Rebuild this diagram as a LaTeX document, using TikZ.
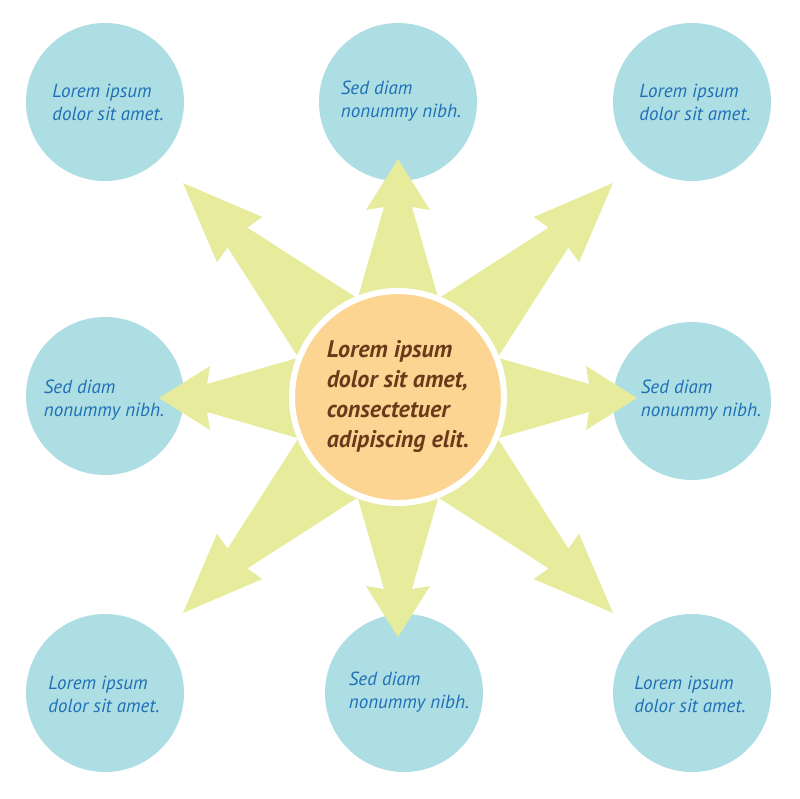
\documentclass[tikz,border=0pt]{standalone}
\usepackage{fontspec}
\setmainfont{PT Sans}
\definecolor{cblue}{HTML}{ADDEE3}
\definecolor{carrow}{HTML}{E6EC9C}
\definecolor{corange}{HTML}{FDD593}
\definecolor{tblue}{HTML}{1F6FB6}
\definecolor{tbrown}{HTML}{6A3B1A}
\begin{document}
\begin{tikzpicture}[x=1pt,y=-1pt,
  bubble/.style={circle,fill=cblue,minimum size=158pt,inner sep=0pt},
  btext/.style={align=left,text=tblue,font=\fontsize{19}{23}\selectfont\itshape,inner sep=0pt},
  hub/.style={circle,fill=corange,draw=white,line width=6pt,minimum size=212pt,inner sep=0pt,
    align=left,text=tbrown,font=\fontsize{24}{30}\selectfont\bfseries\itshape},
  ray/.style={fill=carrow}]
\useasboundingbox[fill=white] (0,0) rectangle (800,798);
% outer circles
\node[bubble] (c1) at (105,102) {};
\node[bubble] (c2) at (398,102) {};
\node[bubble] (c3) at (692,102) {};
\node[bubble] (c4) at (105,396) {};
\node[bubble] (c5) at (692,401) {};
\node[bubble] (c6) at (105,693) {};
\node[bubble] (c7) at (404,693) {};
\node[bubble] (c8) at (692,693) {};
% arrows (axis)
\foreach \a in {0,90,180,270}{
  \fill[ray,shift={(398,398)},rotate=\a]
    (80,-46) -- (191,-14) -- (188,-32) -- (239,0) -- (188,32) -- (191,14) -- (80,46) -- cycle;
}
% arrows (diagonal)
\foreach \a in {45,135,225,315}{
  \fill[ray,shift={(398,398)},rotate=\a]
    (80,-46) -- (227,-14) -- (224,-32) -- (304,0) -- (224,32) -- (227,14) -- (80,46) -- cycle;
}
% hub
\node[hub] (hub) at (398,397) {Lorem ipsum\\dolor sit amet,\\consectetuer\\adipiscing elit.};
% texts
\node[btext] (t1) at (108,102) {Lorem ipsum\\dolor sit amet.};
\node[btext] (t2) at (401,101) {Sed diam\\nonummy nibh.};
\node[btext] (t3) at (695,102) {Lorem ipsum\\dolor sit amet.};
\node[btext] (t4) at (104,400) {Sed diam\\nonummy nibh.};
\node[btext] (t5) at (701,400) {Sed diam\\nonummy nibh.};
\node[btext] (t6) at (104,694) {Lorem ipsum\\dolor sit amet.};
\node[btext] (t7) at (409,692) {Sed diam\\nonummy nibh.};
\node[btext] (t8) at (690,694) {Lorem ipsum\\dolor sit amet.};
\end{tikzpicture}
\end{document}
